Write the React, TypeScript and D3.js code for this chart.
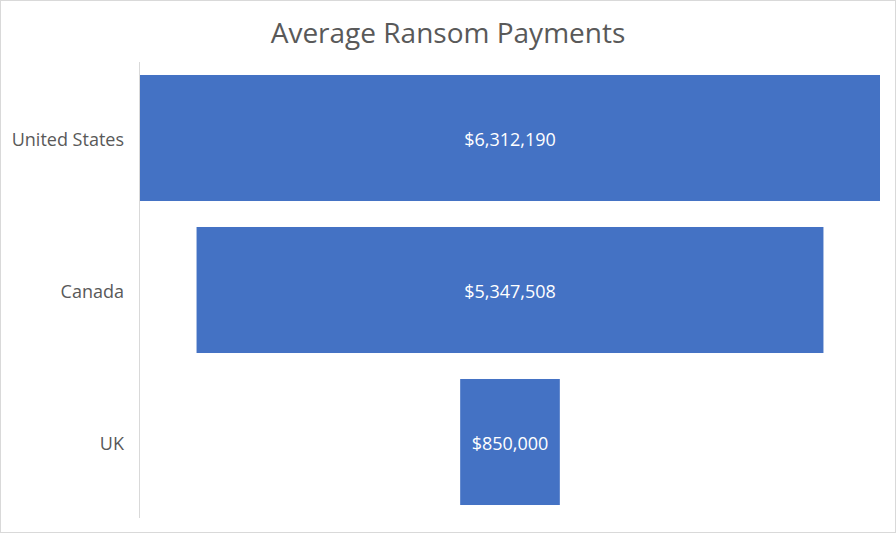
import React from "react";
import * as d3 from "d3";

const categories = ["United States", "Canada", "UK"];
const values = [6312190, 5347508, 850000];
const title = "Average Ransom Payments";

const W = 896;
const H = 533;

export default function App() {
  const y = d3.scaleBand<string>().domain(categories).range([62, 518]).paddingInner(0.171).paddingOuter(0.0855);
  const w = d3.scaleLinear().domain([0, d3.max(values) as number]).range([0, 740]);
  const cx = 510;
  const fmt = (v: number) => "$" + d3.format(",")(v);
  const font = "'Open Sans', sans-serif";
  return (
    <svg width={W} height={H} style={{ position: "absolute", left: 0, top: 0 }} fontFamily={font}>
      <rect x={0.5} y={0.5} width={W - 1} height={H - 1} fill="#fff" stroke="#d9d9d9" />
      <text x={448} y={43} textAnchor="middle" fontSize={28} fill="#595959">{title}</text>
      <line x1={139.5} x2={139.5} y1={62} y2={518} stroke="#d9d9d9" />
      {categories.map((c, i) => {
        const bw = w(values[i]);
        const yy = y(c) as number;
        const bh = y.bandwidth();
        return (
          <g key={c}>
            <rect x={cx - bw / 2} y={yy} width={bw} height={bh} fill="#4472C4" />
            <text x={cx} y={yy + bh / 2} dy="0.42em" textAnchor="middle" fontSize={18} fill="#fff">{fmt(values[i])}</text>
            <text x={124} y={yy + bh / 2} dy="0.42em" textAnchor="end" fontSize={18} fill="#595959">{c}</text>
          </g>
        );
      })}
    </svg>
  );
}
